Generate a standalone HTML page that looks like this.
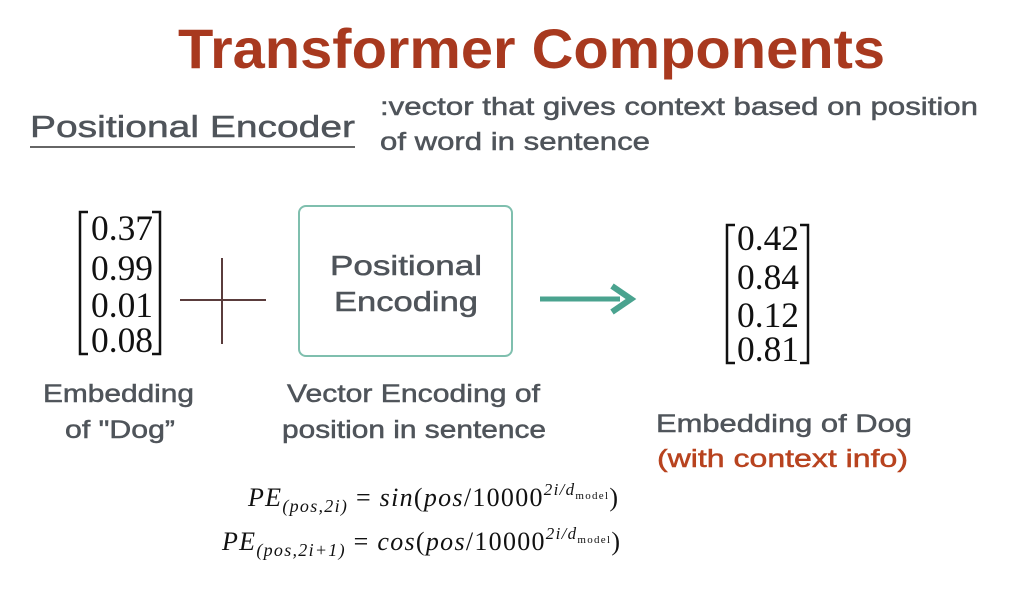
<!DOCTYPE html>
<html><head><meta charset="utf-8"><style>
html,body{margin:0;padding:0;background:#fff;}
svg{display:block;}
.s{font-family:"Liberation Sans",sans-serif;fill:#4f545a;stroke:#4f545a;stroke-width:0.5;}
.n{font-family:"Liberation Serif",serif;fill:#111;font-size:36px;}
.m{font-family:"Liberation Serif",serif;fill:#111;font-size:26px;}
</style></head><body>
<svg width="1024" height="593" viewBox="0 0 1024 593" xmlns="http://www.w3.org/2000/svg">
<rect width="1024" height="593" fill="#fff"/>
<text x="178" y="68" font-family="Liberation Sans,sans-serif" font-weight="bold" font-size="56" fill="#a8391f" textLength="707" lengthAdjust="spacingAndGlyphs">Transformer Components</text>
<text class="s" x="30" y="137" font-size="31" textLength="325" lengthAdjust="spacingAndGlyphs">Positional Encoder</text>
<rect x="30" y="146" width="325" height="2" fill="#666"/>
<text class="s" x="380" y="115" font-size="25" textLength="598" lengthAdjust="spacingAndGlyphs">:vector that gives context based on position</text>
<text class="s" x="380" y="150" font-size="25" textLength="270" lengthAdjust="spacingAndGlyphs">of word in sentence</text>
<!-- matrix 1 -->
<path d="M88,212 H80 V354 H88 M152,212 H160 V354 H152" stroke="#111" stroke-width="2.5" fill="none"/>
<text class="n" x="91" y="240" textLength="62" lengthAdjust="spacingAndGlyphs">0.37</text>
<text class="n" x="91" y="280" textLength="62" lengthAdjust="spacingAndGlyphs">0.99</text>
<text class="n" x="91" y="317" textLength="62" lengthAdjust="spacingAndGlyphs">0.01</text>
<text class="n" x="91" y="352" textLength="62" lengthAdjust="spacingAndGlyphs">0.08</text>
<!-- plus -->
<path d="M180,300 H266 M222,258 V344" stroke="#5a3c3c" stroke-width="2"/>
<!-- box -->
<rect x="299" y="206" width="213" height="150" rx="7" fill="none" stroke="#7fbfae" stroke-width="2"/>
<text class="s" x="330" y="275" font-size="28" textLength="152" lengthAdjust="spacingAndGlyphs">Positional</text>
<text class="s" x="334" y="311" font-size="28" textLength="144" lengthAdjust="spacingAndGlyphs">Encoding</text>
<!-- arrow -->
<path d="M540,299 H620" stroke="#4aa38f" stroke-width="5"/>
<path d="M612,286 L631,299 L612,312" stroke="#4aa38f" stroke-width="6" fill="none" stroke-linejoin="miter"/>
<!-- matrix 2 -->
<path d="M735,225 H727 V363 H735 M800,225 H808 V363 H800" stroke="#111" stroke-width="2.5" fill="none"/>
<text class="n" x="737" y="250" textLength="62" lengthAdjust="spacingAndGlyphs">0.42</text>
<text class="n" x="737" y="289" textLength="62" lengthAdjust="spacingAndGlyphs">0.84</text>
<text class="n" x="737" y="327" textLength="62" lengthAdjust="spacingAndGlyphs">0.12</text>
<text class="n" x="737" y="361" textLength="62" lengthAdjust="spacingAndGlyphs">0.81</text>
<!-- labels -->
<text class="s" x="43" y="402" font-size="25" textLength="151" lengthAdjust="spacingAndGlyphs">Embedding</text>
<text class="s" x="65" y="438" font-size="25" textLength="110" lengthAdjust="spacingAndGlyphs">of "Dog”</text>
<text class="s" x="287" y="402" font-size="25" textLength="253" lengthAdjust="spacingAndGlyphs">Vector Encoding of</text>
<text class="s" x="282" y="438" font-size="25" textLength="264" lengthAdjust="spacingAndGlyphs">position in sentence</text>
<text class="s" x="656" y="432" font-size="25" textLength="256" lengthAdjust="spacingAndGlyphs">Embedding of Dog</text>
<text x="657" y="467" font-family="Liberation Sans,sans-serif" font-size="25" fill="#b8431f" stroke="#b8431f" stroke-width="0.5" textLength="251" lengthAdjust="spacingAndGlyphs">(with context info)</text>
<!-- formulas -->
<text class="m" x="248" y="506" textLength="370" lengthAdjust="spacing"><tspan font-style="italic">PE</tspan><tspan font-size="18" dy="6" font-style="italic">(pos,2i)</tspan><tspan dy="-6"> = </tspan><tspan font-style="italic">sin</tspan>(<tspan font-style="italic">pos</tspan>/10000<tspan font-size="17" dy="-11" font-style="italic">2i/d</tspan><tspan font-size="11" dy="4">model</tspan><tspan dy="7">)</tspan></text>
<text class="m" x="222" y="550" textLength="398" lengthAdjust="spacing"><tspan font-style="italic">PE</tspan><tspan font-size="18" dy="6" font-style="italic">(pos,2i+1)</tspan><tspan dy="-6"> = </tspan><tspan font-style="italic">cos</tspan>(<tspan font-style="italic">pos</tspan>/10000<tspan font-size="17" dy="-11" font-style="italic">2i/d</tspan><tspan font-size="11" dy="4">model</tspan><tspan dy="7">)</tspan></text>
</svg>
</body></html>
